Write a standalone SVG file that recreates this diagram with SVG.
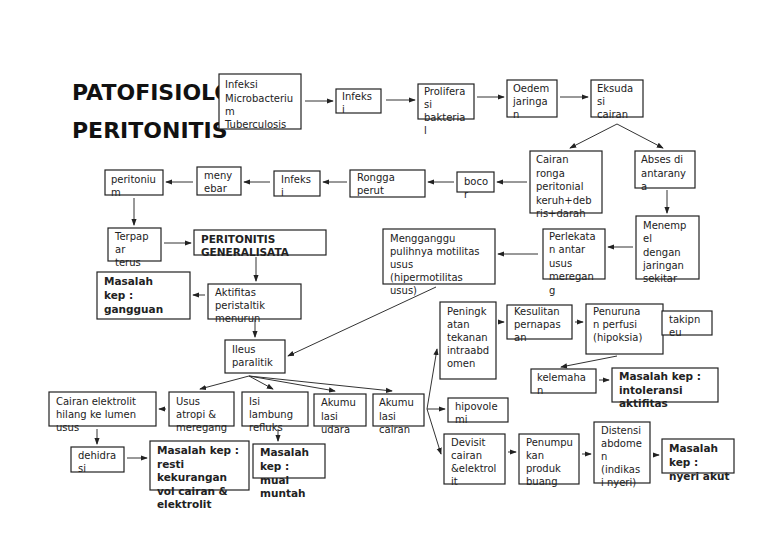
<svg xmlns="http://www.w3.org/2000/svg" width="768" height="543" viewBox="0 0 768 543">
<style>
rect{fill:#fff;stroke:#222;stroke-width:1.2}
text{font-family:"DejaVu Sans",sans-serif;font-size:10px;fill:#222}
.b{font-weight:bold;font-size:10.5px}
.t{font-weight:bold;font-size:22px;fill:#111}
#c line,#c path{stroke:#333;stroke-width:1;fill:none;marker-end:url(#a)}
</style>
<defs><marker id="a" viewBox="0 0 8 8" refX="7" refY="4" markerWidth="7" markerHeight="7" orient="auto"><path d="M0,1L8,4L0,7z" fill="#222"/></marker></defs>
<text class="t" x="72" y="100">PATOFISIOLOGI</text>
<text class="t" x="72" y="138">PERITONITIS</text>
<g id="c">
<line x1="305" y1="101" x2="333" y2="101"/>
<line x1="386" y1="100" x2="415" y2="100"/>
<line x1="477" y1="97" x2="504" y2="97"/>
<line x1="560" y1="97" x2="588" y2="97"/>
<line x1="617" y1="124" x2="570" y2="148"/>
<line x1="617" y1="124" x2="663" y2="148"/>
<line x1="667" y1="190" x2="667" y2="213"/>
<line x1="633" y1="247" x2="608" y2="247"/>
<line x1="538" y1="254" x2="498" y2="254"/>
<line x1="527" y1="182" x2="497" y2="182"/>
<line x1="454" y1="182" x2="428" y2="182"/>
<line x1="347" y1="182" x2="323" y2="182"/>
<line x1="270" y1="182" x2="244" y2="182"/>
<line x1="193" y1="182" x2="166" y2="182"/>
<line x1="134" y1="198" x2="134" y2="225"/>
<line x1="164" y1="243" x2="191" y2="243"/>
<line x1="256" y1="257" x2="256" y2="281"/>
<line x1="205" y1="295" x2="193" y2="295"/>
<line x1="255" y1="320" x2="255" y2="337"/>
<line x1="436" y1="287" x2="288" y2="356"/>
<line x1="249" y1="376" x2="200" y2="389"/>
<line x1="249" y1="376" x2="273" y2="389"/>
<line x1="249" y1="376" x2="335" y2="391"/>
<line x1="249" y1="376" x2="392" y2="391"/>
<line x1="166" y1="409" x2="159" y2="409"/>
<line x1="97" y1="429" x2="97" y2="444"/>
<line x1="127" y1="458" x2="147" y2="458"/>
<line x1="278" y1="429" x2="278" y2="441"/>
<path d="M427,409 L437,349"/>
<line x1="427" y1="409" x2="445" y2="409"/>
<path d="M427,409 L441,454"/>
<line x1="499" y1="322" x2="504" y2="322"/>
<line x1="575" y1="322" x2="583" y2="322"/>
<line x1="656" y1="322" x2="659" y2="322"/>
<line x1="617" y1="356" x2="561" y2="367"/>
<line x1="599" y1="380" x2="609" y2="380"/>
<line x1="508" y1="452" x2="516" y2="452"/>
<line x1="582" y1="454" x2="591" y2="454"/>
<line x1="654" y1="455" x2="659" y2="455"/>
</g>
<g id="n1"><rect x="219" y="74" width="82" height="55"/><text x="225" y="88">Infeksi</text><text x="225" y="102">Microbacteriu</text><text x="225" y="115">m</text><text x="225" y="128">Tuberculosis</text></g>
<g id="n2"><rect x="336" y="89" width="45" height="24"/><text x="342" y="100">Infeks</text><text x="342" y="113">i</text></g>
<g id="n3"><rect x="418" y="84" width="56" height="35"/><text x="424" y="95">Prolifera</text><text x="424" y="108">si</text><text x="424" y="121">bakteria</text><text x="424" y="134">l</text></g>
<g id="n4"><rect x="507" y="80" width="50" height="37"/><text x="513" y="92">Oedem</text><text x="513" y="105">jaringa</text><text x="513" y="118">n</text></g>
<g id="n5"><rect x="591" y="80" width="52" height="37"/><text x="597" y="92">Eksuda</text><text x="597" y="105">si</text><text x="597" y="118">cairan</text></g>
<g id="n6"><rect x="530" y="151" width="72" height="62"/><text x="536" y="163">Cairan</text><text x="536" y="177">ronga</text><text x="536" y="190">peritonial</text><text x="536" y="204">keruh+deb</text><text x="536" y="217">ris+darah</text></g>
<g id="n7"><rect x="635" y="151" width="60" height="37"/><text x="641" y="163">Abses di</text><text x="641" y="177">antarany</text><text x="641" y="190">a</text></g>
<g id="n8"><rect x="636" y="216" width="63" height="63"/><text x="643" y="229">Menemp</text><text x="643" y="242">el</text><text x="643" y="256">dengan</text><text x="643" y="269">jaringan</text><text x="643" y="282">sekitar</text></g>
<g id="n9"><rect x="543" y="229" width="62" height="50"/><text x="549" y="240">Perlekata</text><text x="549" y="253">n antar</text><text x="549" y="267">usus</text><text x="549" y="280">meregan</text><text x="549" y="294">g</text></g>
<g id="n10"><rect x="383" y="229" width="112" height="55"/><text x="390" y="242">Mengganggu</text><text x="390" y="255">pulihnya motilitas</text><text x="390" y="268">usus</text><text x="390" y="281">(hipermotilitas</text><text x="390" y="294">usus)</text></g>
<g id="n11"><rect x="457" y="172" width="37" height="20"/><text x="464" y="185">boco</text><text x="464" y="198">r</text></g>
<g id="n12"><rect x="350" y="170" width="75" height="27"/><text x="357" y="181">Rongga</text><text x="357" y="194">perut</text></g>
<g id="n13"><rect x="274" y="171" width="46" height="25"/><text x="281" y="183">Infeks</text><text x="281" y="196">i</text></g>
<g id="n14"><rect x="197" y="167" width="44" height="28"/><text x="204" y="179">meny</text><text x="204" y="192">ebar</text></g>
<g id="n15"><rect x="105" y="170" width="58" height="25"/><text x="111" y="183">peritoniu</text><text x="111" y="196">m</text></g>
<g id="n16"><rect x="108" y="228" width="53" height="33"/><text x="115" y="240">Terpap</text><text x="115" y="253">ar</text><text x="115" y="266">terus</text></g>
<g id="n17"><rect x="194" y="230" width="132" height="25"/><text class="b" x="201" y="243">PERITONITIS</text><text class="b" x="201" y="256">GENERALISATA</text></g>
<g id="n18"><rect x="97" y="272" width="93" height="47"/><text class="b" x="104" y="285">Masalah</text><text class="b" x="104" y="299">kep :</text><text class="b" x="104" y="313">gangguan</text></g>
<g id="n19"><rect x="208" y="284" width="93" height="35"/><text x="215" y="296">Aktifitas</text><text x="215" y="309">peristaltik</text><text x="215" y="322">menurun</text></g>
<g id="n20"><rect x="225" y="340" width="60" height="33"/><text x="232" y="353">Ileus</text><text x="232" y="366">paralitik</text></g>
<g id="n21"><rect x="49" y="392" width="107" height="34"/><text x="56" y="405">Cairan elektrolit</text><text x="56" y="418">hilang ke lumen</text><text x="56" y="431">usus</text></g>
<g id="n22"><rect x="169" y="392" width="65" height="34"/><text x="176" y="405">Usus</text><text x="176" y="418">atropi &amp;</text><text x="176" y="431">meregang</text></g>
<g id="n23"><rect x="242" y="392" width="66" height="34"/><text x="249" y="405">Isi</text><text x="249" y="418">lambung</text><text x="249" y="431">refluks</text></g>
<g id="n24"><rect x="314" y="394" width="52" height="32"/><text x="321" y="406">Akumu</text><text x="321" y="420">lasi</text><text x="321" y="433">udara</text></g>
<g id="n25"><rect x="373" y="394" width="51" height="32"/><text x="379" y="406">Akumu</text><text x="379" y="420">lasi</text><text x="379" y="433">cairan</text></g>
<g id="n26"><rect x="71" y="447" width="53" height="25"/><text x="78" y="459">dehidra</text><text x="78" y="472">si</text></g>
<g id="n27"><rect x="150" y="441" width="99" height="49"/><text class="b" x="157" y="454">Masalah kep :</text><text class="b" x="157" y="468">resti</text><text class="b" x="157" y="481">kekurangan</text><text class="b" x="157" y="495">vol cairan &amp;</text><text class="b" x="157" y="508">elektrolit</text></g>
<g id="n28"><rect x="253" y="444" width="72" height="34"/><text class="b" x="260" y="456">Masalah</text><text class="b" x="260" y="470">kep :</text><text class="b" x="260" y="484">mual</text><text class="b" x="260" y="497">muntah</text></g>
<g id="n29"><rect x="440" y="302" width="56" height="77"/><text x="447" y="315">Peningk</text><text x="447" y="328">atan</text><text x="447" y="341">tekanan</text><text x="447" y="354">intraabd</text><text x="447" y="367">omen</text></g>
<g id="n30"><rect x="507" y="305" width="65" height="34"/><text x="514" y="315">Kesulitan</text><text x="514" y="328">pernapas</text><text x="514" y="341">an</text></g>
<g id="n31"><rect x="586" y="304" width="77" height="50"/><text x="593" y="315">Penuruna</text><text x="593" y="328">n perfusi</text><text x="593" y="341">(hipoksia)</text></g>
<g id="n32"><rect x="662" y="311" width="50" height="24"/><text x="669" y="323">takipn</text><text x="669" y="336">eu</text></g>
<g id="n33"><rect x="531" y="369" width="65" height="24"/><text x="537" y="381">kelemaha</text><text x="537" y="394">n</text></g>
<g id="n34"><rect x="612" y="368" width="106" height="34"/><text class="b" x="619" y="380">Masalah kep :</text><text class="b" x="619" y="394">intoleransi</text><text class="b" x="619" y="407">aktifitas</text></g>
<g id="n35"><rect x="448" y="398" width="60" height="24"/><text x="455" y="410">hipovole</text><text x="455" y="423">mi</text></g>
<g id="n36"><rect x="444" y="434" width="61" height="50"/><text x="451" y="446">Devisit</text><text x="451" y="459">cairan</text><text x="451" y="472">&amp;elektrol</text><text x="451" y="485">it</text></g>
<g id="n37"><rect x="519" y="434" width="60" height="50"/><text x="526" y="446">Penumpu</text><text x="526" y="459">kan</text><text x="526" y="472">produk</text><text x="526" y="485">buang</text></g>
<g id="n38"><rect x="594" y="422" width="56" height="61"/><text x="601" y="434">Distensi</text><text x="601" y="447">abdome</text><text x="601" y="460">n</text><text x="601" y="473">(indikas</text><text x="601" y="486">i nyeri)</text></g>
<g id="n39"><rect x="662" y="439" width="72" height="34"/><text class="b" x="669" y="452">Masalah</text><text class="b" x="669" y="466">kep :</text><text class="b" x="669" y="480">nyeri akut</text></g>
</svg>
